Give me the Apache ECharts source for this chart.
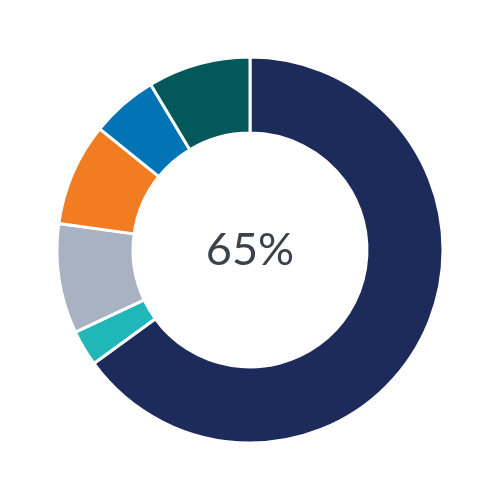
<!DOCTYPE html>
<html>
<head>
<meta charset="utf-8">
<script src="https://cdn.jsdelivr.net/npm/echarts@6/dist/echarts.min.js"></script>
<style>
  html, body { margin: 0; padding: 0; background: #fff; }
  #main { width: 500px; height: 500px; }
</style>
</head>
<body>
<div id="main"></div>
<script>
// slice names and values, clockwise from the top
var names = ['A', 'B', 'C', 'D', 'E', 'F'];
var values = [65, 3, 9.2, 8.6, 5.6, 8.6];
var colors = ['#1c2b5a', '#1fb7b7', '#a8b2c1', '#f27c21', '#0273b5', '#02585a'];
var centerLabel = '65%';

var chart = echarts.init(document.getElementById('main'));

var pieData = [];
for (var i = 0; i < values.length; i++) {
  pieData.push({ name: names[i], value: values[i], itemStyle: { color: colors[i] } });
}

var option = {
  animation: false,
  title: {
    text: centerLabel,
    left: 'center',
    top: 'middle',
    textStyle: {
      fontFamily: 'Lato',
      fontWeight: 'normal',
      fontSize: 45,
      color: '#3d4148'
    }
  },
  series: [{
    type: 'pie',
    center: [250, 250],
    radius: [117, 193],
    startAngle: 90,
    clockwise: true,
    label: { show: false },
    labelLine: { show: false },
    emphasis: { disabled: true },
    itemStyle: { borderColor: '#fff', borderWidth: 3 },
    data: pieData
  }]
};
chart.setOption(option);
</script>
</body>
</html>
